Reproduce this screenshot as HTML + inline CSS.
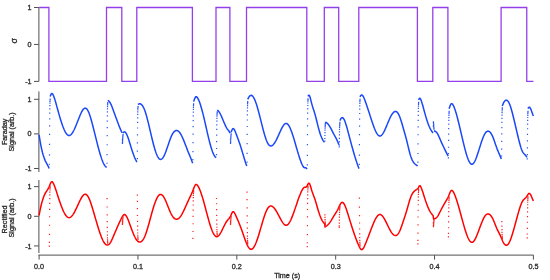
<!DOCTYPE html>
<html><head><meta charset="utf-8"><style>
html,body{margin:0;padding:0;background:#fff;}
body{width:550px;height:280px;overflow:hidden;}
svg{display:block;}
.ax{stroke:#505050;stroke-width:1;}
.tk{stroke:#505050;stroke-width:1;fill:none;}
.sg{fill:none;stroke:#9440ea;stroke-width:1.3;stroke-linejoin:miter;}
.fa{fill:none;stroke:#1a48f8;stroke-width:1.5;stroke-linejoin:round;}
.re{fill:none;stroke:#ff0000;stroke-width:1.5;stroke-linejoin:round;}
.fd{fill:none;stroke:#2a55f8;stroke-width:1.2;}
.rd{fill:none;stroke:#ff2020;stroke-width:1.2;}
text{font-family:"Liberation Sans",Arial,sans-serif;fill:#2a2a2a;stroke:#2a2a2a;stroke-width:0.3px;}
.tl{font-size:7.2px;text-anchor:end;}
.xl{font-size:7.2px;text-anchor:middle;}
.yl{font-size:7.2px;text-anchor:middle;}
</style></head><body>
<svg width="550" height="280" viewBox="0 0 550 280">
<line class="ax" x1="38.9" y1="7.5" x2="38.9" y2="81.4"/>
<line class="ax" x1="38.9" y1="91.4" x2="38.9" y2="172"/>
<line class="ax" x1="38.9" y1="180.0" x2="38.9" y2="253"/>
<line class="ax" x1="38.4" y1="255.1" x2="533.6" y2="255.1"/>
<path class="tk" d="M34,7.5H38.9 M34,44.45H38.9 M34,81.4H38.9 M34,99.3H38.9 M34,133.9H38.9 M34,168.5H38.9 M34,186.65H38.9 M34,216.3H38.9 M34,245.95H38.9 M39.1,255.1V259.6 M137.96,255.1V259.6 M236.82,255.1V259.6 M335.68,255.1V259.6 M434.54,255.1V259.6 M533.4,255.1V259.6"/>
<text class="tl" x="31.6" y="10.05">1</text>
<text class="tl" x="31.6" y="47">0</text>
<text class="tl" x="31.6" y="83.95">-1</text>
<text class="tl" x="31.6" y="101.85">1</text>
<text class="tl" x="31.6" y="136.45">0</text>
<text class="tl" x="31.6" y="171.05">-1</text>
<text class="tl" x="31.6" y="189.2">1</text>
<text class="tl" x="31.6" y="218.85">0</text>
<text class="tl" x="31.6" y="248.5">-1</text>
<text class="xl" x="39.1" y="268.7">0.0</text>
<text class="xl" x="137.96" y="268.7">0.1</text>
<text class="xl" x="236.82" y="268.7">0.2</text>
<text class="xl" x="335.68" y="268.7">0.3</text>
<text class="xl" x="434.54" y="268.7">0.4</text>
<text class="xl" x="533.4" y="268.7">0.5</text>
<text class="yl" style="font-size:8.8px" transform="translate(16.5,40.9) rotate(-90)">σ</text>
<text class="yl" transform="translate(7.0,131.9) rotate(-90)">Faraday</text>
<text class="yl" transform="translate(13.6,131.9) rotate(-90)">Signal (arb.)</text>
<text class="yl" transform="translate(7.0,219.4) rotate(-90)">Rectified</text>
<text class="yl" transform="translate(13.6,217.9) rotate(-90)">Signal (arb.)</text>
<text class="xl" x="287.2" y="278.4">Time (s)</text>
<polyline class="sg" points="39.1,7.5 48.9,7.5 48.9,81.4 106.5,81.4 106.5,7.5 121.8,7.5 121.8,81.4 136.8,81.4 136.8,7.5 192.4,7.5 192.4,81.4 216,81.4 216,7.5 229.9,7.5 229.9,81.4 246.5,81.4 246.5,7.5 306.8,7.5 306.8,81.4 324.3,81.4 324.3,7.5 338.7,7.5 338.7,81.4 358.8,81.4 358.8,7.5 417.4,7.5 417.4,81.4 432.8,81.4 432.8,7.5 447.9,7.5 447.9,81.4 501.1,81.4 501.1,7.5 526.75,7.5 526.75,81.4 533.4,81.4"/>
<path class="fa" d="M39.1,134.93 L39.6,138.19 L40.1,141.19 L40.6,143.97 L41.1,146.52 L41.6,148.86 L42.1,151 L42.6,152.96 L43.1,154.74 L43.6,156.36 L44.1,157.83 L44.6,159.16 L45.1,160.36 L45.6,161.45 L46.1,162.43 L46.6,163.34 L47.1,164.21 L47.6,165.1 L48.1,166.06 L48.6,167.15 L49.1,168.41 M50.1,96.52 L50.6,95.2 L51.1,94.16 L51.6,93.56 L52.1,93.52 L52.6,93.97 L53.1,94.82 L53.6,95.97 L54.1,97.33 L54.6,98.81 L55.1,100.4 L55.6,102.07 L56.1,103.81 L56.6,105.6 L57.1,107.42 L57.6,109.24 L58.1,111.06 L58.6,112.85 L59.1,114.62 L59.6,116.35 L60.1,118.04 L60.6,119.68 L61.1,121.27 L61.6,122.81 L62.1,124.28 L62.6,125.69 L63.1,127.03 L63.6,128.28 L64.1,129.46 L64.6,130.55 L65.1,131.54 L65.6,132.44 L66.1,133.23 L66.6,133.92 L67.1,134.49 L67.6,134.94 L68.1,135.26 L68.6,135.46 L69.1,135.52 L69.6,135.44 L70.1,135.23 L70.6,134.9 L71.1,134.46 L71.6,133.9 L72.1,133.25 L72.6,132.5 L73.1,131.66 L73.6,130.75 L74.1,129.76 L74.6,128.71 L75.1,127.61 L75.6,126.46 L76.1,125.26 L76.6,124.03 L77.1,122.78 L77.6,121.5 L78.1,120.22 L78.6,118.93 L79.1,117.66 L79.6,116.42 L80.1,115.22 L80.6,114.07 L81.1,112.99 L81.6,111.98 L82.1,111.06 L82.6,110.24 L83.1,109.54 L83.6,108.96 L84.1,108.53 L84.6,108.25 L85.1,108.13 L85.6,108.18 L86.1,108.41 L86.6,108.81 L87.1,109.37 L87.6,110.11 L88.1,111 L88.6,112.06 L89.1,113.27 L89.6,114.64 L90.1,116.15 L90.6,117.78 L91.1,119.51 L91.6,121.3 L92.1,123.15 L92.6,125.04 L93.1,126.97 L93.6,128.93 L94.1,130.91 L94.6,132.91 L95.1,134.92 L95.6,136.93 L96.1,138.93 L96.6,140.93 L97.1,142.9 L97.6,144.85 L98.1,146.76 L98.6,148.63 L99.1,150.46 L99.6,152.23 L100.1,153.94 L100.6,155.58 L101.1,157.14 L101.6,158.62 L102.1,160 L102.6,161.29 L103.1,162.48 L103.6,163.55 L104.1,164.5 L104.6,165.33 L105.1,166.02 L105.6,166.58 L106.1,167 L106.6,167.28 L106.7,167.32 M107.7,100.41 L108.2,100.59 L108.7,100.92 L109.2,101.41 L109.7,102.04 L110.2,102.83 L110.7,103.78 L111.2,104.86 L111.7,106.06 L112.2,107.33 L112.7,108.66 L113.2,110.02 L113.7,111.39 L114.2,112.76 L114.7,114.14 L115.2,115.52 L115.7,116.89 L116.2,118.25 L116.7,119.61 L117.2,120.96 L117.7,122.29 L118.2,123.6 L118.7,124.9 L119.2,126.18 L119.7,127.43 L120.2,128.65 L120.7,129.84 L121.2,131 L121.7,132.13 L122,132.79 M123,133.1 L123.5,132.4 L124,131.97 L124.5,131.84 L125,132 L125.5,132.43 L126,133.09 L126.5,133.97 L127,135.03 L127.5,136.24 L128,137.59 L128.5,139.04 L129,140.57 L129.5,142.15 L130,143.78 L130.5,145.41 L131,147.03 L131.5,148.63 L132,150.2 L132.5,151.73 L133,153.2 L133.5,154.62 L134,155.97 L134.5,157.24 L135,158.42 L135.5,159.51 L136,160.49 L136.5,161.36 L137,162.1 M138,104.57 L138.5,104.19 L139,103.93 L139.5,103.8 L140,103.8 L140.5,103.93 L141,104.19 L141.5,104.58 L142,105.1 L142.5,105.76 L143,106.55 L143.5,107.48 L144,108.54 L144.5,109.75 L145,111.09 L145.5,112.58 L146,114.18 L146.5,115.9 L147,117.72 L147.5,119.63 L148,121.61 L148.5,123.65 L149,125.73 L149.5,127.85 L150,129.99 L150.5,132.14 L151,134.28 L151.5,136.4 L152,138.49 L152.5,140.54 L153,142.53 L153.5,144.44 L154,146.28 L154.5,148.03 L155,149.69 L155.5,151.24 L156,152.68 L156.5,154.01 L157,155.21 L157.5,156.27 L158,157.19 L158.5,157.96 L159,158.58 L159.5,159.03 L160,159.31 L160.5,159.42 L161,159.37 L161.5,159.16 L162,158.81 L162.5,158.3 L163,157.65 L163.5,156.86 L164,155.93 L164.5,154.88 L165,153.73 L165.5,152.48 L166,151.15 L166.5,149.77 L167,148.33 L167.5,146.87 L168,145.39 L168.5,143.91 L169,142.45 L169.5,141.02 L170,139.64 L170.5,138.32 L171,137.08 L171.5,135.93 L172,134.9 L172.5,133.97 L173,133.15 L173.5,132.45 L174,131.85 L174.5,131.37 L175,130.99 L175.5,130.72 L176,130.55 L176.5,130.49 L177,130.54 L177.5,130.69 L178,130.94 L178.5,131.29 L179,131.75 L179.5,132.3 L180,132.96 L180.5,133.71 L181,134.56 L181.5,135.49 L182,136.49 L182.5,137.57 L183,138.7 L183.5,139.88 L184,141.1 L184.5,142.36 L185,143.65 L185.5,144.95 L186,146.26 L186.5,147.57 L187,148.87 L187.5,150.16 L188,151.42 L188.5,152.66 L189,153.87 L189.5,155.09 L190,156.3 L190.5,157.54 L191,158.8 L191.5,160.1 L192,161.44 L192.5,162.85 L192.6,163.14 M193.6,101.63 L194.1,100.15 L194.6,98.82 L195.1,97.74 L195.6,97.01 L196.1,96.7 L196.6,96.81 L197.1,97.24 L197.6,97.94 L198.1,98.83 L198.6,99.87 L199.1,101.04 L199.6,102.35 L200.1,103.77 L200.6,105.31 L201.1,106.95 L201.6,108.68 L202.1,110.51 L202.6,112.41 L203.1,114.38 L203.6,116.42 L204.1,118.51 L204.6,120.64 L205.1,122.81 L205.6,125.01 L206.1,127.22 L206.6,129.43 L207.1,131.63 L207.6,133.81 L208.1,135.95 L208.6,138.05 L209.1,140.1 L209.6,142.08 L210.1,143.98 L210.6,145.8 L211.1,147.51 L211.6,149.11 L212.1,150.59 L212.6,151.95 L213.1,153.18 L213.6,154.27 L214.1,155.23 L214.6,156.03 L215.1,156.68 L215.6,157.18 L216.1,157.5 L216.2,157.55 M217.2,110.2 L217.7,110.43 L218.2,110.83 L218.7,111.38 L219.2,112.06 L219.7,112.85 L220.2,113.75 L220.7,114.74 L221.2,115.8 L221.7,116.92 L222.2,118.08 L222.7,119.27 L223.2,120.47 L223.7,121.68 L224.2,122.86 L224.7,124.02 L225.2,125.13 L225.7,126.18 L226.2,127.16 L226.7,128.04 L227.2,128.82 L227.7,129.51 L228.2,130.16 L228.7,130.81 L229.2,131.51 L229.7,132.32 L230.1,133.07 M231.1,132.28 L231.6,130.92 L232.1,129.72 L232.6,128.88 L233.1,128.56 L233.6,128.71 L234.1,129.27 L234.6,130.13 L235.1,131.23 L235.6,132.48 L236.1,133.8 L236.6,135.12 L237.1,136.45 L237.6,137.79 L238.1,139.14 L238.6,140.52 L239.1,141.92 L239.6,143.36 L240.1,144.84 L240.6,146.36 L241.1,147.92 L241.6,149.54 L242.1,151.19 L242.6,152.87 L243.1,154.56 L243.6,156.25 L244.1,157.92 L244.6,159.57 L245.1,161.17 L245.6,162.73 L246.1,164.21 L246.6,165.62 L246.7,165.89 M247.7,99.43 L248.2,98.36 L248.7,97.43 L249.2,96.66 L249.7,96.05 L250.2,95.62 L250.7,95.38 L251.2,95.33 L251.7,95.46 L252.2,95.76 L252.7,96.24 L253.2,96.87 L253.7,97.65 L254.2,98.58 L254.7,99.64 L255.2,100.83 L255.7,102.15 L256.2,103.57 L256.7,105.1 L257.2,106.72 L257.7,108.43 L258.2,110.22 L258.7,112.08 L259.2,113.99 L259.7,115.94 L260.2,117.93 L260.7,119.93 L261.2,121.94 L261.7,123.94 L262.2,125.92 L262.7,127.88 L263.2,129.79 L263.7,131.65 L264.2,133.44 L264.7,135.16 L265.2,136.79 L265.7,138.31 L266.2,139.73 L266.7,141.02 L267.2,142.17 L267.7,143.17 L268.2,144.01 L268.7,144.69 L269.2,145.22 L269.7,145.6 L270.2,145.84 L270.7,145.94 L271.2,145.91 L271.7,145.77 L272.2,145.51 L272.7,145.14 L273.2,144.68 L273.7,144.12 L274.2,143.47 L274.7,142.75 L275.2,141.95 L275.7,141.09 L276.2,140.17 L276.7,139.19 L277.2,138.17 L277.7,137.11 L278.2,136.02 L278.7,134.91 L279.2,133.78 L279.7,132.66 L280.2,131.55 L280.7,130.46 L281.2,129.41 L281.7,128.41 L282.2,127.46 L282.7,126.59 L283.2,125.8 L283.7,125.1 L284.2,124.5 L284.7,124.02 L285.2,123.67 L285.7,123.46 L286.2,123.4 L286.7,123.5 L287.2,123.76 L287.7,124.18 L288.2,124.74 L288.7,125.44 L289.2,126.26 L289.7,127.21 L290.2,128.27 L290.7,129.44 L291.2,130.7 L291.7,132.05 L292.2,133.47 L292.7,134.97 L293.2,136.53 L293.7,138.15 L294.2,139.8 L294.7,141.5 L295.2,143.21 L295.7,144.94 L296.2,146.68 L296.7,148.42 L297.2,150.14 L297.7,151.85 L298.2,153.52 L298.7,155.15 L299.2,156.74 L299.7,158.27 L300.2,159.73 L300.7,161.11 L301.2,162.41 L301.7,163.62 L302.2,164.72 L302.7,165.7 L303.2,166.53 L303.7,167.17 L304.2,167.59 L304.7,167.77 L305.2,167.81 L305.7,167.86 L306.2,168.06 L306.7,168.56 L307,169.07 M308,96.34 L308.5,95.41 L309,95.15 L309.5,95.76 L310,97.06 L310.5,98.82 L311,100.82 L311.5,102.81 L312,104.65 L312.5,106.36 L313,107.97 L313.5,109.52 L314,111.06 L314.5,112.64 L315,114.31 L315.5,116.1 L316,118.02 L316.5,120.01 L317,122.04 L317.5,124.09 L318,126.09 L318.5,128.03 L319,129.86 L319.5,131.58 L320,133.18 L320.5,134.67 L321,136.04 L321.5,137.3 L322,138.43 L322.5,139.45 L323,140.36 L323.5,141.14 L324,141.81 L324.5,142.36 M325.5,121.78 L326,122.23 L326.5,122.66 L327,123.1 L327.5,123.58 L328,124.1 L328.5,124.7 L329,125.37 L329.5,126.11 L330,126.91 L330.5,127.77 L331,128.68 L331.5,129.62 L332,130.59 L332.5,131.58 L333,132.57 L333.5,133.55 L334,134.51 L334.5,135.44 L335,136.35 L335.5,137.26 L336,138.2 L336.5,139.16 L337,140.17 L337.5,141.25 L338,142.41 L338.5,143.66 L338.9,144.69 M339.9,120.63 L340.4,119.55 L340.9,118.65 L341.4,118 L341.9,117.65 L342.4,117.61 L342.9,117.87 L343.4,118.39 L343.9,119.15 L344.4,120.13 L344.9,121.31 L345.4,122.67 L345.9,124.17 L346.4,125.8 L346.9,127.53 L347.4,129.33 L347.9,131.2 L348.4,133.09 L348.9,135 L349.4,136.9 L349.9,138.78 L350.4,140.66 L350.9,142.52 L351.4,144.37 L351.9,146.2 L352.4,148 L352.9,149.78 L353.4,151.54 L353.9,153.26 L354.4,154.96 L354.9,156.62 L355.4,158.24 L355.9,159.83 L356.4,161.37 L356.9,162.87 L357.4,164.33 L357.9,165.73 L358.4,167.09 L358.9,168.39 L359,168.64 M360,96.84 L360.5,95.93 L361,95.29 L361.5,94.97 L362,95.02 L362.5,95.39 L363,96.05 L363.5,96.94 L364,98.01 L364.5,99.22 L365,100.53 L365.5,101.88 L366,103.28 L366.5,104.71 L367,106.17 L367.5,107.66 L368,109.17 L368.5,110.7 L369,112.24 L369.5,113.8 L370,115.36 L370.5,116.92 L371,118.47 L371.5,120.01 L372,121.52 L372.5,123 L373,124.45 L373.5,125.85 L374,127.19 L374.5,128.47 L375,129.67 L375.5,130.8 L376,131.84 L376.5,132.79 L377,133.63 L377.5,134.36 L378,134.97 L378.5,135.45 L379,135.8 L379.5,136 L380,136.05 L380.5,135.95 L381,135.69 L381.5,135.3 L382,134.78 L382.5,134.14 L383,133.4 L383.5,132.56 L384,131.64 L384.5,130.65 L385,129.59 L385.5,128.48 L386,127.33 L386.5,126.15 L387,124.95 L387.5,123.74 L388,122.54 L388.5,121.35 L389,120.18 L389.5,119.05 L390,117.96 L390.5,116.93 L391,115.97 L391.5,115.08 L392,114.27 L392.5,113.55 L393,112.93 L393.5,112.41 L394,111.99 L394.5,111.69 L395,111.5 L395.5,111.45 L396,111.52 L396.5,111.73 L397,112.08 L397.5,112.59 L398,113.25 L398.5,114.08 L399,115.07 L399.5,116.22 L400,117.51 L400.5,118.92 L401,120.43 L401.5,122.04 L402,123.71 L402.5,125.43 L403,127.19 L403.5,128.97 L404,130.75 L404.5,132.52 L405,134.27 L405.5,136.04 L406,137.86 L406.5,139.76 L407,141.76 L407.5,143.82 L408,145.91 L408.5,147.99 L409,150.03 L409.5,151.99 L410,153.84 L410.5,155.55 L411,157.07 L411.5,158.41 L412,159.58 L412.5,160.59 L413,161.47 L413.5,162.22 L414,162.88 L414.5,163.44 L415,163.94 L415.5,164.38 L416,164.78 L416.5,165.16 L417,165.54 L417.5,165.95 L417.6,166.05 M418.6,100.01 L419.1,98.91 L419.6,98.24 L420.1,98.32 L420.6,99.08 L421.1,100.29 L421.6,101.76 L422.1,103.35 L422.6,105.05 L423.1,106.82 L423.6,108.63 L424.1,110.48 L424.6,112.32 L425.1,114.14 L425.6,115.92 L426.1,117.63 L426.6,119.26 L427.1,120.81 L427.6,122.28 L428.1,123.67 L428.6,124.97 L429.1,126.19 L429.6,127.32 L430.1,128.36 L430.6,129.33 L431.1,130.21 L431.6,131.02 L432.1,131.76 L432.6,132.43 L433,132.91 M434,130.76 L434.5,130.97 L435,131.2 L435.5,131.48 L436,131.84 L436.5,132.31 L437,132.93 L437.5,133.69 L438,134.59 L438.5,135.6 L439,136.69 L439.5,137.83 L440,139.01 L440.5,140.19 L441,141.34 L441.5,142.47 L442,143.57 L442.5,144.65 L443,145.71 L443.5,146.76 L444,147.78 L444.5,148.8 L445,149.81 L445.5,150.81 L446,151.81 L446.5,152.81 L447,153.8 L447.5,154.8 L448,155.89 L448.1,156.14 M449.1,108.78 L449.6,107.22 L450.1,105.8 L450.6,104.64 L451.1,103.9 L451.6,103.64 L452.1,103.78 L452.6,104.27 L453.1,105.04 L453.6,106.02 L454.1,107.17 L454.6,108.45 L455.1,109.87 L455.6,111.41 L456.1,113.05 L456.6,114.79 L457.1,116.6 L457.6,118.49 L458.1,120.45 L458.6,122.46 L459.1,124.51 L459.6,126.61 L460.1,128.73 L460.6,130.88 L461.1,133.03 L461.6,135.19 L462.1,137.34 L462.6,139.47 L463.1,141.58 L463.6,143.66 L464.1,145.69 L464.6,147.67 L465.1,149.58 L465.6,151.42 L466.1,153.18 L466.6,154.84 L467.1,156.41 L467.6,157.86 L468.1,159.19 L468.6,160.38 L469.1,161.44 L469.6,162.35 L470.1,163.1 L470.6,163.67 L471.1,164.07 L471.6,164.28 L472.1,164.29 L472.6,164.1 L473.1,163.72 L473.6,163.17 L474.1,162.45 L474.6,161.58 L475.1,160.58 L475.6,159.46 L476.1,158.23 L476.6,156.91 L477.1,155.51 L477.6,154.05 L478.1,152.53 L478.6,150.97 L479.1,149.39 L479.6,147.8 L480.1,146.21 L480.6,144.64 L481.1,143.1 L481.6,141.6 L482.1,140.16 L482.6,138.79 L483.1,137.5 L483.6,136.3 L484.1,135.2 L484.6,134.22 L485.1,133.38 L485.6,132.66 L486.1,132.09 L486.6,131.65 L487.1,131.34 L487.6,131.16 L488.1,131.12 L488.6,131.21 L489.1,131.42 L489.6,131.76 L490.1,132.23 L490.6,132.82 L491.1,133.53 L491.6,134.36 L492.1,135.32 L492.6,136.39 L493.1,137.58 L493.6,138.87 L494.1,140.25 L494.6,141.69 L495.1,143.16 L495.6,144.64 L496.1,146.1 L496.6,147.51 L497.1,148.85 L497.6,150.1 L498.1,151.29 L498.6,152.44 L499.1,153.58 L499.6,154.73 L500.1,155.91 L500.6,157.15 L501.1,158.47 L501.3,159.02 M502.3,105.95 L502.8,104.62 L503.3,103.44 L503.8,102.44 L504.3,101.62 L504.8,100.98 L505.3,100.53 L505.8,100.25 L506.3,100.16 L506.8,100.26 L507.3,100.54 L507.8,101 L508.3,101.65 L508.8,102.49 L509.3,103.51 L509.8,104.71 L510.3,106.08 L510.8,107.58 L511.3,109.22 L511.8,110.97 L512.3,112.82 L512.8,114.74 L513.3,116.73 L513.8,118.78 L514.3,120.86 L514.8,122.97 L515.3,125.11 L515.8,127.26 L516.3,129.41 L516.8,131.55 L517.3,133.68 L517.8,135.77 L518.3,137.83 L518.8,139.84 L519.3,141.79 L519.8,143.67 L520.3,145.46 L520.8,147.13 L521.3,148.64 L521.8,149.99 L522.3,151.13 L522.8,152.07 L523.3,152.85 L523.8,153.51 L524.3,154.08 L524.8,154.61 L525.3,155.13 L525.8,155.69 L526.3,156.32 L526.8,157.06 L526.95,157.32 M527.95,108.56 L528.45,107.72 L528.95,107.21 L529.45,107.18 L529.95,107.6 L530.45,108.39 L530.95,109.48 L531.45,110.76 L531.95,112.15 L532.45,113.58 L532.95,114.95 L533.4,116.07"/>
<path class="re" d="M39.1,215.42 L39.6,212.63 L40.1,210.05 L40.6,207.67 L41.1,205.49 L41.6,203.48 L42.1,201.64 L42.6,199.97 L43.1,198.44 L43.6,197.05 L44.1,195.79 L44.6,194.66 L45.1,193.62 L45.6,192.69 L46.1,191.85 L46.6,191.07 L47.1,190.33 L47.6,189.56 L48.1,188.74 L48.6,187.81 L49.1,186.73 L49.6,185.51 L50.1,184.27 L50.6,183.14 L51.1,182.25 L51.6,181.73 L52.1,181.69 L52.6,182.08 L53.1,182.81 L53.6,183.8 L54.1,184.96 L54.6,186.23 L55.1,187.59 L55.6,189.03 L56.1,190.52 L56.6,192.05 L57.1,193.61 L57.6,195.17 L58.1,196.73 L58.6,198.27 L59.1,199.78 L59.6,201.26 L60.1,202.71 L60.6,204.11 L61.1,205.48 L61.6,206.79 L62.1,208.06 L62.6,209.26 L63.1,210.41 L63.6,211.49 L64.1,212.49 L64.6,213.43 L65.1,214.28 L65.6,215.05 L66.1,215.73 L66.6,216.31 L67.1,216.8 L67.6,217.19 L68.1,217.47 L68.6,217.63 L69.1,217.69 L69.6,217.62 L70.1,217.44 L70.6,217.16 L71.1,216.78 L71.6,216.3 L72.1,215.74 L72.6,215.1 L73.1,214.38 L73.6,213.6 L74.1,212.75 L74.6,211.86 L75.1,210.91 L75.6,209.92 L76.1,208.9 L76.6,207.84 L77.1,206.77 L77.6,205.68 L78.1,204.57 L78.6,203.47 L79.1,202.39 L79.6,201.32 L80.1,200.29 L80.6,199.31 L81.1,198.38 L81.6,197.51 L82.1,196.73 L82.6,196.03 L83.1,195.42 L83.6,194.93 L84.1,194.56 L84.6,194.32 L85.1,194.22 L85.6,194.26 L86.1,194.46 L86.6,194.8 L87.1,195.28 L87.6,195.91 L88.1,196.68 L88.6,197.58 L89.1,198.62 L89.6,199.8 L90.1,201.09 L90.6,202.49 L91.1,203.97 L91.6,205.5 L92.1,207.09 L92.6,208.71 L93.1,210.36 L93.6,212.04 L94.1,213.74 L94.6,215.45 L95.1,217.17 L95.6,218.89 L96.1,220.61 L96.6,222.32 L97.1,224.01 L97.6,225.68 L98.1,227.32 L98.6,228.93 L99.1,230.49 L99.6,232.01 L100.1,233.47 L100.6,234.87 L101.1,236.21 L101.6,237.48 L102.1,238.67 L102.6,239.77 L103.1,240.79 L103.6,241.71 L104.1,242.52 L104.6,243.23 L105.1,243.83 L105.6,244.3 L106.1,244.66 L106.6,244.9 L107.1,245.02 L107.6,245.02 L108.1,244.88 L108.6,244.63 L109.1,244.24 L109.6,243.72 L110.1,243.07 L110.6,242.28 L111.1,241.38 L111.6,240.37 L112.1,239.29 L112.6,238.16 L113.1,237 L113.6,235.82 L114.1,234.65 L114.6,233.47 L115.1,232.29 L115.6,231.11 L116.1,229.94 L116.6,228.78 L117.1,227.62 L117.6,226.48 L118.1,225.35 L118.6,224.23 L119.1,223.14 L119.6,222.06 L120.1,221.01 L120.6,219.98 L121.1,218.98 L121.6,218.01 L122.1,217.07 L122.6,216.21 L123.1,215.48 L123.6,214.92 L124.1,214.6 L124.6,214.54 L125.1,214.73 L125.6,215.13 L126.1,215.74 L126.6,216.53 L127.1,217.46 L127.6,218.53 L128.1,219.7 L128.6,220.96 L129.1,222.28 L129.6,223.65 L130.1,225.04 L130.6,226.44 L131.1,227.83 L131.6,229.2 L132.1,230.53 L132.6,231.83 L133.1,233.09 L133.6,234.29 L134.1,235.43 L134.6,236.51 L135.1,237.51 L135.6,238.42 L136.1,239.24 L136.6,239.96 L137.1,240.58 L137.6,241.1 L138.1,241.51 L138.6,241.82 L139.1,242.01 L139.6,242.1 L140.1,242.08 L140.6,241.95 L141.1,241.7 L141.6,241.35 L142.1,240.88 L142.6,240.29 L143.1,239.59 L143.6,238.77 L144.1,237.83 L144.6,236.78 L145.1,235.6 L145.6,234.31 L146.1,232.91 L146.6,231.42 L147.1,229.84 L147.6,228.19 L148.1,226.49 L148.6,224.73 L149.1,222.94 L149.6,221.12 L150.1,219.28 L150.6,217.44 L151.1,215.61 L151.6,213.79 L152.1,212.01 L152.6,210.26 L153.1,208.57 L153.6,206.94 L154.1,205.38 L154.6,203.9 L155.1,202.5 L155.6,201.18 L156.1,199.97 L156.6,198.85 L157.1,197.85 L157.6,196.96 L158.1,196.2 L158.6,195.56 L159.1,195.06 L159.6,194.71 L160.1,194.5 L160.6,194.43 L161.1,194.5 L161.6,194.7 L162.1,195.03 L162.6,195.49 L163.1,196.08 L163.6,196.78 L164.1,197.59 L164.6,198.51 L165.1,199.52 L165.6,200.6 L166.1,201.75 L166.6,202.95 L167.1,204.18 L167.6,205.44 L168.1,206.71 L168.6,207.97 L169.1,209.22 L169.6,210.44 L170.1,211.61 L170.6,212.73 L171.1,213.78 L171.6,214.74 L172.1,215.61 L172.6,216.39 L173.1,217.07 L173.6,217.65 L174.1,218.14 L174.6,218.54 L175.1,218.85 L175.6,219.06 L176.1,219.19 L176.6,219.22 L177.1,219.16 L177.6,219.02 L178.1,218.78 L178.6,218.46 L179.1,218.06 L179.6,217.56 L180.1,216.98 L180.6,216.32 L181.1,215.58 L181.6,214.77 L182.1,213.9 L182.6,212.97 L183.1,211.99 L183.6,210.97 L184.1,209.91 L184.6,208.83 L185.1,207.73 L185.6,206.61 L186.1,205.49 L186.6,204.36 L187.1,203.25 L187.6,202.15 L188.1,201.07 L188.6,200.02 L189.1,198.98 L189.6,197.94 L190.1,196.89 L190.6,195.83 L191.1,194.75 L191.6,193.62 L192.1,192.46 L192.6,191.24 L193.1,189.96 L193.6,188.64 L194.1,187.38 L194.6,186.24 L195.1,185.31 L195.6,184.69 L196.1,184.43 L196.6,184.51 L197.1,184.89 L197.6,185.48 L198.1,186.25 L198.6,187.14 L199.1,188.14 L199.6,189.26 L200.1,190.48 L200.6,191.8 L201.1,193.2 L201.6,194.69 L202.1,196.25 L202.6,197.88 L203.1,199.57 L203.6,201.32 L204.1,203.11 L204.6,204.94 L205.1,206.8 L205.6,208.68 L206.1,210.57 L206.6,212.47 L207.1,214.35 L207.6,216.22 L208.1,218.06 L208.6,219.86 L209.1,221.61 L209.6,223.31 L210.1,224.94 L210.6,226.49 L211.1,227.96 L211.6,229.33 L212.1,230.6 L212.6,231.77 L213.1,232.82 L213.6,233.76 L214.1,234.58 L214.6,235.27 L215.1,235.82 L215.6,236.25 L216.1,236.52 L216.6,236.66 L217.1,236.64 L217.6,236.46 L218.1,236.15 L218.6,235.7 L219.1,235.14 L219.6,234.48 L220.1,233.73 L220.6,232.9 L221.1,232 L221.6,231.05 L222.1,230.06 L222.6,229.04 L223.1,228.01 L223.6,226.98 L224.1,225.96 L224.6,224.96 L225.1,224 L225.6,223.09 L226.1,222.24 L226.6,221.47 L227.1,220.78 L227.6,220.17 L228.1,219.62 L228.6,219.06 L229.1,218.47 L229.6,217.8 L230.1,217.01 L230.6,216.05 L231.1,214.92 L231.6,213.75 L232.1,212.72 L232.6,212 L233.1,211.72 L233.6,211.85 L234.1,212.33 L234.6,213.07 L235.1,214.01 L235.6,215.08 L236.1,216.21 L236.6,217.34 L237.1,218.48 L237.6,219.63 L238.1,220.79 L238.6,221.97 L239.1,223.18 L239.6,224.41 L240.1,225.67 L240.6,226.97 L241.1,228.32 L241.6,229.7 L242.1,231.12 L242.6,232.56 L243.1,234 L243.6,235.45 L244.1,236.88 L244.6,238.3 L245.1,239.67 L245.6,241 L246.1,242.28 L246.6,243.48 L247.1,244.61 L247.6,245.65 L248.1,246.58 L248.6,247.4 L249.1,248.09 L249.6,248.64 L250.1,249.05 L250.6,249.28 L251.1,249.36 L251.6,249.28 L252.1,249.04 L252.6,248.67 L253.1,248.15 L253.6,247.5 L254.1,246.73 L254.6,245.85 L255.1,244.85 L255.6,243.74 L256.1,242.54 L256.6,241.25 L257.1,239.88 L257.6,238.42 L258.1,236.9 L258.6,235.32 L259.1,233.69 L259.6,232.02 L260.1,230.33 L260.6,228.62 L261.1,226.9 L261.6,225.18 L262.1,223.48 L262.6,221.79 L263.1,220.15 L263.6,218.54 L264.1,216.99 L264.6,215.51 L265.1,214.1 L265.6,212.77 L266.1,211.54 L266.6,210.41 L267.1,209.4 L267.6,208.52 L268.1,207.77 L268.6,207.16 L269.1,206.68 L269.6,206.33 L270.1,206.1 L270.6,205.99 L271.1,205.99 L271.6,206.1 L272.1,206.3 L272.6,206.59 L273.1,206.98 L273.6,207.44 L274.1,207.98 L274.6,208.59 L275.1,209.26 L275.6,209.99 L276.1,210.77 L276.6,211.6 L277.1,212.46 L277.6,213.37 L278.1,214.3 L278.6,215.25 L279.1,216.21 L279.6,217.17 L280.1,218.12 L280.6,219.06 L281.1,219.97 L281.6,220.84 L282.1,221.66 L282.6,222.42 L283.1,223.11 L283.6,223.73 L284.1,224.26 L284.6,224.69 L285.1,225.02 L285.6,225.22 L286.1,225.3 L286.6,225.24 L287.1,225.05 L287.6,224.72 L288.1,224.26 L288.6,223.68 L289.1,222.99 L289.6,222.2 L290.1,221.31 L290.6,220.33 L291.1,219.27 L291.6,218.12 L292.1,216.91 L292.6,215.64 L293.1,214.31 L293.6,212.94 L294.1,211.53 L294.6,210.08 L295.1,208.62 L295.6,207.13 L296.1,205.64 L296.6,204.16 L297.1,202.68 L297.6,201.21 L298.1,199.77 L298.6,198.37 L299.1,197 L299.6,195.68 L300.1,194.41 L300.6,193.21 L301.1,192.08 L301.6,191.03 L302.1,190.07 L302.6,189.21 L303.1,188.47 L303.6,187.88 L304.1,187.48 L304.6,187.29 L305.1,187.24 L305.6,187.22 L306.1,187.08 L306.6,186.71 L307.1,185.98 L307.6,184.95 L308.1,183.92 L308.6,183.22 L309.1,183.15 L309.6,183.8 L310.1,185.01 L310.6,186.57 L311.1,188.3 L311.6,189.98 L312.1,191.54 L312.6,192.98 L313.1,194.35 L313.6,195.67 L314.1,197 L314.6,198.36 L315.1,199.81 L315.6,201.37 L316.1,203.03 L316.6,204.74 L317.1,206.49 L317.6,208.24 L318.1,209.95 L318.6,211.59 L319.1,213.14 L319.6,214.6 L320.1,215.95 L320.6,217.2 L321.1,218.36 L321.6,219.41 L322.1,220.37 L322.6,221.22 L323.1,221.98 L323.6,222.63 L324.1,223.18 L324.6,223.63 L325.1,227.04 L325.6,226.61 L326.1,226.23 L326.6,225.86 L327.1,225.47 L327.6,225.06 L328.1,224.6 L328.6,224.08 L329.1,223.49 L329.6,222.85 L330.1,222.15 L330.6,221.4 L331.1,220.62 L331.6,219.8 L332.1,218.97 L332.6,218.12 L333.1,217.27 L333.6,216.44 L334.1,215.62 L334.6,214.83 L335.1,214.04 L335.6,213.26 L336.1,212.46 L336.6,211.62 L337.1,210.75 L337.6,209.81 L338.1,208.8 L338.6,207.72 L339.1,206.62 L339.6,205.54 L340.1,204.54 L340.6,203.67 L341.1,202.98 L341.6,202.52 L342.1,202.33 L342.6,202.4 L343.1,202.71 L343.6,203.24 L344.1,203.98 L344.6,204.89 L345.1,205.96 L345.6,207.17 L346.1,208.51 L346.6,209.94 L347.1,211.45 L347.6,213.02 L348.1,214.63 L348.6,216.26 L349.1,217.89 L349.6,219.52 L350.1,221.13 L350.6,222.73 L351.1,224.33 L351.6,225.9 L352.1,227.46 L352.6,229 L353.1,230.52 L353.6,232.01 L354.1,233.48 L354.6,234.92 L355.1,236.33 L355.6,237.71 L356.1,239.05 L356.6,240.36 L357.1,241.63 L357.6,242.86 L358.1,244.05 L358.6,245.19 L359.1,246.29 L359.6,247.32 L360.1,248.23 L360.6,248.97 L361.1,249.47 L361.6,249.68 L362.1,249.57 L362.6,249.2 L363.1,248.6 L363.6,247.8 L364.1,246.85 L364.6,245.8 L365.1,244.67 L365.6,243.5 L366.1,242.3 L366.6,241.07 L367.1,239.81 L367.6,238.53 L368.1,237.23 L368.6,235.92 L369.1,234.59 L369.6,233.26 L370.1,231.92 L370.6,230.59 L371.1,229.26 L371.6,227.94 L372.1,226.65 L372.6,225.39 L373.1,224.16 L373.6,222.97 L374.1,221.83 L374.6,220.74 L375.1,219.72 L375.6,218.77 L376.1,217.89 L376.6,217.1 L377.1,216.4 L377.6,215.79 L378.1,215.29 L378.6,214.9 L379.1,214.63 L379.6,214.48 L380.1,214.46 L380.6,214.58 L381.1,214.82 L381.6,215.18 L382.1,215.65 L382.6,216.21 L383.1,216.86 L383.6,217.6 L384.1,218.4 L384.6,219.27 L385.1,220.18 L385.6,221.14 L386.1,222.13 L386.6,223.15 L387.1,224.18 L387.6,225.21 L388.1,226.24 L388.6,227.26 L389.1,228.26 L389.6,229.22 L390.1,230.14 L390.6,231.01 L391.1,231.83 L391.6,232.57 L392.1,233.25 L392.6,233.85 L393.1,234.37 L393.6,234.8 L394.1,235.13 L394.6,235.37 L395.1,235.51 L395.6,235.54 L396.1,235.45 L396.6,235.25 L397.1,234.92 L397.6,234.46 L398.1,233.86 L398.6,233.13 L399.1,232.25 L399.6,231.24 L400.1,230.11 L400.6,228.89 L401.1,227.57 L401.6,226.19 L402.1,224.74 L402.6,223.26 L403.1,221.74 L403.6,220.22 L404.1,218.69 L404.6,217.18 L405.1,215.68 L405.6,214.16 L406.1,212.59 L406.6,210.94 L407.1,209.22 L407.6,207.44 L408.1,205.65 L408.6,203.87 L409.1,202.14 L409.6,200.47 L410.1,198.91 L410.6,197.48 L411.1,196.2 L411.6,195.09 L412.1,194.11 L412.6,193.27 L413.1,192.54 L413.6,191.91 L414.1,191.37 L414.6,190.9 L415.1,190.48 L415.6,190.11 L416.1,189.77 L416.6,189.44 L417.1,189.12 L417.6,188.75 L418.1,188.16 L418.6,187.26 L419.1,186.32 L419.6,185.74 L420.1,185.81 L420.6,186.46 L421.1,187.5 L421.6,188.76 L422.1,190.12 L422.6,191.58 L423.1,193.09 L423.6,194.65 L424.1,196.23 L424.6,197.81 L425.1,199.37 L425.6,200.89 L426.1,202.36 L426.6,203.75 L427.1,205.08 L427.6,206.35 L428.1,207.53 L428.6,208.65 L429.1,209.69 L429.6,210.66 L430.1,211.55 L430.6,212.38 L431.1,213.14 L431.6,213.83 L432.1,214.47 L432.6,215.04 L433.1,215.55 L433.6,219.15 L434.1,218.96 L434.6,218.77 L435.1,218.57 L435.6,218.32 L436.1,217.99 L436.6,217.57 L437.1,217.01 L437.6,216.33 L438.1,215.54 L438.6,214.66 L439.1,213.72 L439.6,212.73 L440.1,211.72 L440.6,210.71 L441.1,209.73 L441.6,208.76 L442.1,207.82 L442.6,206.9 L443.1,206 L443.6,205.11 L444.1,204.23 L444.6,203.36 L445.1,202.49 L445.6,201.64 L446.1,200.78 L446.6,199.93 L447.1,199.08 L447.6,198.21 L448.1,197.25 L448.6,196.08 L449.1,194.77 L449.6,193.44 L450.1,192.22 L450.6,191.23 L451.1,190.59 L451.6,190.36 L452.1,190.49 L452.6,190.91 L453.1,191.57 L453.6,192.41 L454.1,193.39 L454.6,194.5 L455.1,195.71 L455.6,197.03 L456.1,198.43 L456.6,199.92 L457.1,201.48 L457.6,203.1 L458.1,204.77 L458.6,206.49 L459.1,208.26 L459.6,210.05 L460.1,211.87 L460.6,213.71 L461.1,215.56 L461.6,217.4 L462.1,219.25 L462.6,221.08 L463.1,222.89 L463.6,224.66 L464.1,226.4 L464.6,228.1 L465.1,229.74 L465.6,231.31 L466.1,232.82 L466.6,234.25 L467.1,235.59 L467.6,236.83 L468.1,237.97 L468.6,238.99 L469.1,239.9 L469.6,240.68 L470.1,241.32 L470.6,241.81 L471.1,242.16 L471.6,242.33 L472.1,242.34 L472.6,242.18 L473.1,241.86 L473.6,241.38 L474.1,240.77 L474.6,240.02 L475.1,239.17 L475.6,238.21 L476.1,237.15 L476.6,236.02 L477.1,234.82 L477.6,233.56 L478.1,232.26 L478.6,230.93 L479.1,229.57 L479.6,228.21 L480.1,226.85 L480.6,225.5 L481.1,224.18 L481.6,222.9 L482.1,221.67 L482.6,220.49 L483.1,219.38 L483.6,218.35 L484.1,217.42 L484.6,216.58 L485.1,215.85 L485.6,215.24 L486.1,214.75 L486.6,214.37 L487.1,214.11 L487.6,213.96 L488.1,213.92 L488.6,213.99 L489.1,214.18 L489.6,214.47 L490.1,214.87 L490.6,215.37 L491.1,215.98 L491.6,216.7 L492.1,217.51 L492.6,218.43 L493.1,219.45 L493.6,220.56 L494.1,221.74 L494.6,222.98 L495.1,224.24 L495.6,225.5 L496.1,226.75 L496.6,227.96 L497.1,229.11 L497.6,230.18 L498.1,231.2 L498.6,232.19 L499.1,233.16 L499.6,234.15 L500.1,235.16 L500.6,236.22 L501.1,237.35 L501.6,238.56 L502.1,239.77 L502.6,240.95 L503.1,242.02 L503.6,242.93 L504.1,243.7 L504.6,244.31 L505.1,244.76 L505.6,245.06 L506.1,245.2 L506.6,245.18 L507.1,245 L507.6,244.67 L508.1,244.18 L508.6,243.52 L509.1,242.71 L509.6,241.74 L510.1,240.63 L510.6,239.38 L511.1,238.02 L511.6,236.56 L512.1,235.01 L512.6,233.38 L513.1,231.7 L513.6,229.97 L514.1,228.19 L514.6,226.39 L515.1,224.57 L515.6,222.73 L516.1,220.88 L516.6,219.05 L517.1,217.22 L517.6,215.41 L518.1,213.63 L518.6,211.89 L519.1,210.2 L519.6,208.56 L520.1,207 L520.6,205.52 L521.1,204.17 L521.6,202.96 L522.1,201.91 L522.6,201.03 L523.1,200.31 L523.6,199.71 L524.1,199.2 L524.6,198.73 L525.1,198.29 L525.6,197.83 L526.1,197.31 L526.6,196.72 L527.1,196.01 L527.6,195.17 L528.1,194.35 L528.6,193.7 L529.1,193.37 L529.6,193.47 L530.1,193.94 L530.6,194.7 L531.1,195.68 L531.6,196.82 L532.1,198.03 L532.6,199.25 L533.1,200.4 L533.4,201.02"/>
<path class="fd" d="M48.81,164.24h1.2 M48.87,154.88h1.2 M48.93,144.34h1.2 M48.99,134.4h1.2 M49.05,125.82h1.2 M49.11,118.78h1.2 M49.17,113.2h1.2 M49.23,108.87h1.2 M49.29,105.59h1.2 M49.35,103.13h1.2 M49.41,101.3h1.2 M49.47,99.96h1.2 M49.53,98.99h1.2 M106.41,163.23h1.2 M106.47,154.55h1.2 M106.53,144.77h1.2 M106.59,135.55h1.2 M106.65,127.59h1.2 M106.71,121.06h1.2 M106.77,115.88h1.2 M106.83,111.87h1.2 M106.89,108.82h1.2 M106.95,106.54h1.2 M107.01,104.85h1.2 M107.07,103.6h1.2 M107.13,102.7h1.2 M121.71,139.74h1.2 M121.77,142.68h1.2 M121.83,143.41h1.2 M121.89,142.96h1.2 M121.95,141.94h1.2 M122.01,140.7h1.2 M122.07,139.46h1.2 M122.13,138.31h1.2 M122.19,137.3h1.2 M122.25,136.44h1.2 M122.31,135.73h1.2 M122.37,135.16h1.2 M122.43,134.7h1.2 M136.71,158.69h1.2 M136.77,151.21h1.2 M136.83,142.78h1.2 M136.89,134.84h1.2 M136.95,127.98h1.2 M137.01,122.35h1.2 M137.07,117.89h1.2 M137.13,114.44h1.2 M137.19,111.81h1.2 M137.25,109.85h1.2 M137.31,108.39h1.2 M137.37,107.32h1.2 M137.43,106.54h1.2 M192.31,159.63h1.2 M192.37,151.62h1.2 M192.43,142.58h1.2 M192.49,134.07h1.2 M192.55,126.72h1.2 M192.61,120.69h1.2 M192.67,115.91h1.2 M192.73,112.21h1.2 M192.79,109.4h1.2 M192.85,107.29h1.2 M192.91,105.72h1.2 M192.97,104.58h1.2 M193.03,103.74h1.2 M215.91,154.67h1.2 M215.97,148.52h1.2 M216.03,141.6h1.2 M216.09,135.07h1.2 M216.15,129.44h1.2 M216.21,124.81h1.2 M216.27,121.15h1.2 M216.33,118.31h1.2 M216.39,116.15h1.2 M216.45,114.54h1.2 M216.51,113.34h1.2 M216.57,112.46h1.2 M216.63,111.82h1.2 M229.81,139.96h1.2 M229.87,142.75h1.2 M229.93,143.32h1.2 M229.99,142.72h1.2 M230.05,141.57h1.2 M230.11,140.23h1.2 M230.17,138.9h1.2 M230.23,137.68h1.2 M230.29,136.62h1.2 M230.35,135.73h1.2 M230.41,134.99h1.2 M230.47,134.4h1.2 M230.53,133.92h1.2 M246.41,162.05h1.2 M246.47,153.4h1.2 M246.53,143.64h1.2 M246.59,134.46h1.2 M246.65,126.52h1.2 M246.71,120.01h1.2 M246.77,114.85h1.2 M246.83,110.85h1.2 M246.89,107.81h1.2 M246.95,105.54h1.2 M247.01,103.85h1.2 M247.07,102.61h1.2 M247.13,101.71h1.2 M306.71,164.79h1.2 M306.77,155.34h1.2 M306.83,144.67h1.2 M306.89,134.63h1.2 M306.95,125.96h1.2 M307.01,118.84h1.2 M307.07,113.2h1.2 M307.13,108.83h1.2 M307.19,105.51h1.2 M307.25,103.02h1.2 M307.31,101.18h1.2 M307.37,99.82h1.2 M307.43,98.84h1.2 M324.21,141.18h1.2 M324.27,138.5h1.2 M324.33,135.48h1.2 M324.39,132.63h1.2 M324.45,130.17h1.2 M324.51,128.15h1.2 M324.57,126.55h1.2 M324.63,125.32h1.2 M324.69,124.37h1.2 M324.75,123.67h1.2 M324.81,123.15h1.2 M324.87,122.76h1.2 M324.93,122.48h1.2 M338.61,146.82h1.2 M338.67,145.12h1.2 M338.73,141.93h1.2 M338.79,138.35h1.2 M338.85,134.94h1.2 M338.91,131.95h1.2 M338.97,129.44h1.2 M339.03,127.41h1.2 M339.09,125.79h1.2 M339.15,124.53h1.2 M339.21,123.56h1.2 M339.27,122.82h1.2 M339.33,122.26h1.2 M358.71,164.46h1.2 M358.77,155.12h1.2 M358.83,144.58h1.2 M358.89,134.66h1.2 M358.95,126.09h1.2 M359.01,119.06h1.2 M359.07,113.49h1.2 M359.13,109.17h1.2 M359.19,105.89h1.2 M359.25,103.44h1.2 M359.31,101.61h1.2 M359.37,100.28h1.2 M359.43,99.3h1.2 M417.31,162.09h1.2 M417.37,153.51h1.2 M417.43,143.84h1.2 M417.49,134.73h1.2 M417.55,126.87h1.2 M417.61,120.41h1.2 M417.67,115.29h1.2 M417.73,111.33h1.2 M417.79,108.32h1.2 M417.85,106.07h1.2 M417.91,104.39h1.2 M417.97,103.16h1.2 M418.03,102.27h1.2 M432.71,126.14h1.2 M432.77,122.93h1.2 M432.83,121.88h1.2 M432.89,122.03h1.2 M432.95,122.79h1.2 M433.01,123.82h1.2 M433.07,124.9h1.2 M433.13,125.92h1.2 M433.19,126.83h1.2 M433.25,127.61h1.2 M433.31,128.26h1.2 M433.37,128.8h1.2 M433.43,129.23h1.2 M447.81,157.95h1.2 M447.87,153.72h1.2 M447.93,147.24h1.2 M447.99,140.38h1.2 M448.05,134.03h1.2 M448.11,128.55h1.2 M448.17,124.03h1.2 M448.23,120.41h1.2 M448.29,117.57h1.2 M448.35,115.37h1.2 M448.41,113.7h1.2 M448.47,112.43h1.2 M448.53,111.47h1.2 M501.01,156.02h1.2 M501.07,149.1h1.2 M501.13,141.3h1.2 M501.19,133.96h1.2 M501.25,127.61h1.2 M501.31,122.41h1.2 M501.37,118.28h1.2 M501.43,115.08h1.2 M501.49,112.65h1.2 M501.55,110.83h1.2 M501.61,109.49h1.2 M501.67,108.5h1.2 M501.73,107.77h1.2 M526.66,158.97h1.2 M526.72,154.57h1.2 M526.78,147.9h1.2 M526.84,140.86h1.2 M526.9,134.35h1.2 M526.96,128.75h1.2 M527.02,124.13h1.2 M527.08,120.43h1.2 M527.14,117.52h1.2 M527.2,115.28h1.2 M527.26,113.57h1.2 M527.32,112.28h1.2 M527.38,111.31h1.2"/>
<path class="rd" d="M48.75,246.11h1.2 M48.81,242.3h1.2 M48.87,234.28h1.2 M48.93,225.24h1.2 M48.99,216.73h1.2 M49.05,209.37h1.2 M49.11,203.34h1.2 M49.17,198.56h1.2 M49.23,194.85h1.2 M49.29,192.04h1.2 M49.35,189.93h1.2 M49.41,188.37h1.2 M49.47,187.22h1.2 M49.53,186.38h1.2 M106.47,198.6h1.2 M106.53,206.99h1.2 M106.59,214.89h1.2 M106.65,221.71h1.2 M106.71,227.31h1.2 M106.77,231.74h1.2 M106.83,235.18h1.2 M106.89,237.79h1.2 M106.95,239.75h1.2 M107.01,241.2h1.2 M107.07,242.26h1.2 M107.13,243.04h1.2 M121.71,221.31h1.2 M121.77,223.82h1.2 M121.83,224.45h1.2 M121.89,224.07h1.2 M121.95,223.19h1.2 M122.01,222.13h1.2 M122.07,221.06h1.2 M122.13,220.08h1.2 M122.19,219.21h1.2 M122.25,218.48h1.2 M122.31,217.87h1.2 M122.37,217.38h1.2 M122.43,216.98h1.2 M136.71,195.06h1.2 M136.77,201.47h1.2 M136.83,208.69h1.2 M136.89,215.49h1.2 M136.95,221.37h1.2 M137.01,226.19h1.2 M137.07,230.02h1.2 M137.13,232.98h1.2 M137.19,235.23h1.2 M137.25,236.91h1.2 M137.31,238.16h1.2 M137.37,239.08h1.2 M137.43,239.75h1.2 M192.31,238.35h1.2 M192.37,231.48h1.2 M192.43,223.74h1.2 M192.49,216.45h1.2 M192.55,210.15h1.2 M192.61,204.98h1.2 M192.67,200.88h1.2 M192.73,197.71h1.2 M192.79,195.3h1.2 M192.85,193.49h1.2 M192.91,192.16h1.2 M192.97,191.17h1.2 M193.03,190.46h1.2 M215.91,198.5h1.2 M215.97,203.77h1.2 M216.03,209.7h1.2 M216.09,215.3h1.2 M216.15,220.13h1.2 M216.21,224.09h1.2 M216.27,227.23h1.2 M216.33,229.66h1.2 M216.39,231.51h1.2 M216.45,232.89h1.2 M216.51,233.92h1.2 M216.57,234.67h1.2 M216.63,235.22h1.2 M229.81,221.49h1.2 M229.87,223.88h1.2 M229.93,224.38h1.2 M229.99,223.86h1.2 M230.05,222.87h1.2 M230.11,221.72h1.2 M230.17,220.58h1.2 M230.23,219.54h1.2 M230.29,218.63h1.2 M230.35,217.87h1.2 M230.41,217.24h1.2 M230.47,216.73h1.2 M230.53,216.32h1.2 M246.41,192.18h1.2 M246.47,199.59h1.2 M246.53,207.95h1.2 M246.59,215.82h1.2 M246.65,222.62h1.2 M246.71,228.2h1.2 M246.77,232.63h1.2 M246.83,236.05h1.2 M246.89,238.65h1.2 M246.95,240.61h1.2 M247.01,242.05h1.2 M247.07,243.11h1.2 M247.13,243.89h1.2 M306.65,246.62h1.2 M306.71,242.77h1.2 M306.77,234.67h1.2 M306.83,225.53h1.2 M306.89,216.93h1.2 M306.95,209.49h1.2 M307.01,203.39h1.2 M307.07,198.56h1.2 M307.13,194.82h1.2 M307.19,191.97h1.2 M307.25,189.84h1.2 M307.31,188.26h1.2 M307.37,187.1h1.2 M307.43,186.25h1.2 M324.33,214.95h1.2 M324.39,217.39h1.2 M324.45,219.5h1.2 M324.51,221.22h1.2 M324.57,222.6h1.2 M324.63,223.66h1.2 M324.69,224.46h1.2 M324.75,225.07h1.2 M324.81,225.52h1.2 M324.87,225.84h1.2 M324.93,226.08h1.2 M338.61,227.37h1.2 M338.67,225.92h1.2 M338.73,223.18h1.2 M338.79,220.11h1.2 M338.85,217.19h1.2 M338.91,214.63h1.2 M338.97,212.48h1.2 M339.03,210.74h1.2 M339.09,209.35h1.2 M339.15,208.27h1.2 M339.21,207.44h1.2 M339.27,206.81h1.2 M339.33,206.33h1.2 M358.77,198.12h1.2 M358.83,207.14h1.2 M358.89,215.65h1.2 M358.95,222.99h1.2 M359.01,229.02h1.2 M359.07,233.79h1.2 M359.13,237.49h1.2 M359.19,240.3h1.2 M359.25,242.41h1.2 M359.31,243.97h1.2 M359.37,245.11h1.2 M359.43,245.95h1.2 M417.25,243.94h1.2 M417.31,240.46h1.2 M417.37,233.11h1.2 M417.43,224.82h1.2 M417.49,217.01h1.2 M417.55,210.27h1.2 M417.61,204.74h1.2 M417.67,200.36h1.2 M417.73,196.96h1.2 M417.79,194.38h1.2 M417.85,192.45h1.2 M417.91,191.01h1.2 M417.97,189.96h1.2 M418.03,189.2h1.2 M432.71,222.95h1.2 M432.77,225.7h1.2 M432.83,226.6h1.2 M432.89,226.47h1.2 M432.95,225.82h1.2 M433.01,224.94h1.2 M433.07,224.02h1.2 M433.13,223.14h1.2 M433.19,222.36h1.2 M433.25,221.69h1.2 M433.31,221.13h1.2 M433.37,220.67h1.2 M433.43,220.3h1.2 M447.81,236.91h1.2 M447.87,233.29h1.2 M447.93,227.74h1.2 M447.99,221.85h1.2 M448.05,216.41h1.2 M448.11,211.72h1.2 M448.17,207.85h1.2 M448.23,204.74h1.2 M448.29,202.31h1.2 M448.35,200.42h1.2 M448.41,198.99h1.2 M448.47,197.9h1.2 M448.53,197.08h1.2 M501.25,221.69h1.2 M501.31,226.15h1.2 M501.37,229.69h1.2 M501.43,232.43h1.2 M501.49,234.51h1.2 M501.55,236.07h1.2 M501.61,237.22h1.2 M501.67,238.07h1.2 M501.73,238.69h1.2 M526.66,237.79h1.2 M526.72,234.02h1.2 M526.78,228.3h1.2 M526.84,222.26h1.2 M526.9,216.69h1.2 M526.96,211.88h1.2 M527.02,207.92h1.2 M527.08,204.75h1.2 M527.14,202.27h1.2 M527.2,200.35h1.2 M527.26,198.88h1.2 M527.32,197.77h1.2 M527.38,196.94h1.2"/>
</svg>
</body></html>
